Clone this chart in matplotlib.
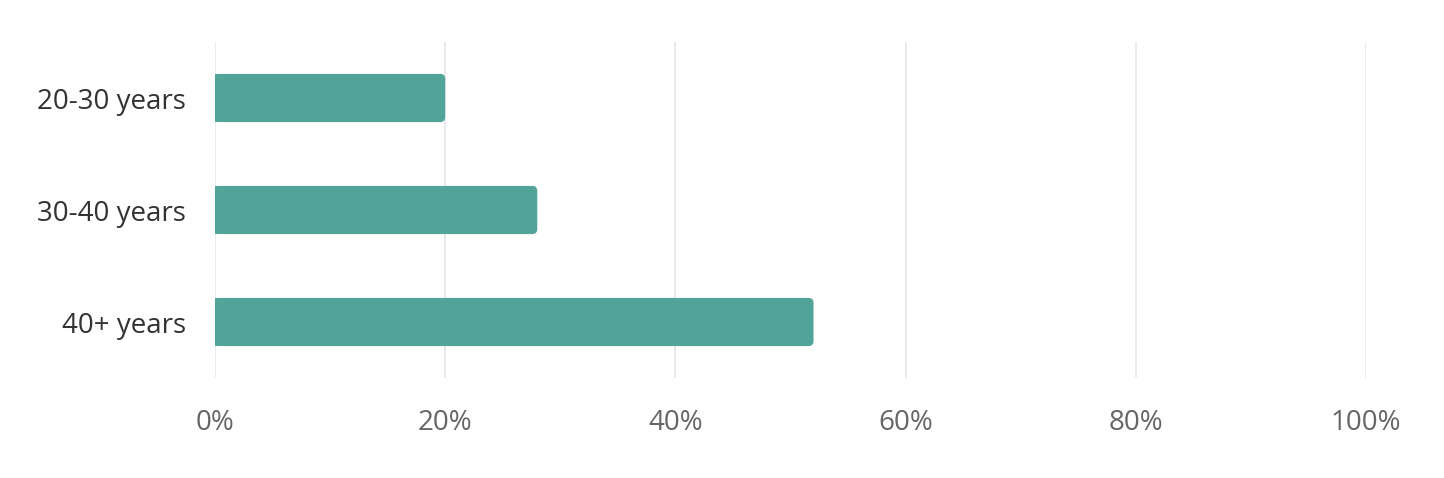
import matplotlib.pyplot as plt
from matplotlib.patches import FancyBboxPatch, Rectangle

categories = ['20-30 years', '30-40 years', '40+ years']
values = [20, 28, 52]
x_ticks = [0, 20, 40, 60, 80, 100]
x_labels = ['0%', '20%', '40%', '60%', '80%', '100%']

BAR_COLOR = '#52a499'

plt.rcParams['font.family'] = ['Open Sans', 'DejaVu Sans']

fig = plt.figure(figsize=(14.44, 4.78), dpi=100)
W, H = 1444, 478
left, right, top, bottom = 215, 1366, 42, 378
ax = fig.add_axes([left / W, (H - bottom) / H, (right - left) / W, (bottom - top) / H])

ax.set_xlim(0, 100)
ax.set_ylim(2.5, -0.5)

bar_h = 0.43
bars = ax.barh(range(len(categories)), values, height=bar_h, color='none')

# rounded right ends
px_per_x = (right - left) / 100
px_per_y = (bottom - top) / 3
radius_px = 5
rx = radius_px / px_per_x
aspect = px_per_x / px_per_y
for b in bars:
    x0, y0 = b.get_x(), b.get_y()
    w, h = b.get_width(), b.get_height()
    ax.add_patch(FancyBboxPatch((x0, y0), w, h,
                                boxstyle=f'round,pad=0,rounding_size={rx}',
                                mutation_aspect=aspect, fc=BAR_COLOR, ec='none', zorder=3))
    ax.add_patch(Rectangle((x0, y0), w / 2, h, fc=BAR_COLOR, ec='none', zorder=3))

ax.set_xticks(x_ticks)
ax.set_xticklabels(x_labels)
ax.set_yticks(range(len(categories)))
ax.set_yticklabels(categories)

ax.grid(axis='x', color='#e6e6e6', linewidth=1.2, zorder=0)
ax.set_axisbelow(True)
for s in ax.spines.values():
    s.set_visible(False)
ax.tick_params(axis='both', length=0)
ax.tick_params(axis='x', labelsize=20, labelcolor='#666666', pad=22)
ax.tick_params(axis='y', labelsize=20, labelcolor='#333333', pad=21)

fig.savefig('out.png', dpi=100)
